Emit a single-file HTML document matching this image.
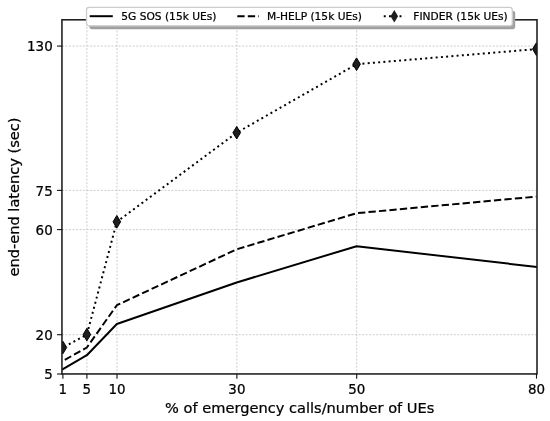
<!DOCTYPE html>
<html><head><meta charset="utf-8"><title>latency chart</title>
<style>html,body{margin:0;padding:0;background:#fff;}svg{display:block;}</style>
</head><body>
<svg width="550" height="421" viewBox="0 0 550 421"><rect width="550" height="421" fill="#fff"/><defs><filter id="sb" x="-5%" y="-50%" width="110%" height="200%"><feGaussianBlur stdDeviation="0.55"/></filter><clipPath id="ax"><rect x="61.95" y="19.8" width="475.05" height="354.15"/></clipPath></defs><g stroke="#cbcbcb" stroke-width="0.95" stroke-dasharray="2.05 1.48" fill="none"><line x1="86.9" y1="19.8" x2="86.9" y2="373.95"/><line x1="117.0" y1="19.8" x2="117.0" y2="373.95"/><line x1="236.9" y1="19.8" x2="236.9" y2="373.95"/><line x1="356.7" y1="19.8" x2="356.7" y2="373.95"/><line x1="61.95" y1="334.7" x2="537.0" y2="334.7"/><line x1="61.95" y1="229.6" x2="537.0" y2="229.6"/><line x1="61.95" y1="190.4" x2="537.0" y2="190.4"/><line x1="61.95" y1="46.07" x2="537.0" y2="46.07"/></g><g clip-path="url(#ax)" fill="none" stroke="#000"><polyline points="62.90,369.20 86.87,355.20 116.84,324.00 236.70,282.50 356.56,246.20 536.35,266.90" stroke-width="1.98" stroke-linejoin="round" stroke-linecap="square"/><polyline points="62.90,360.90 86.87,347.50 116.84,305.20 236.70,249.30 356.56,213.20 536.35,196.60" stroke-width="1.98" stroke-linejoin="round" stroke-dasharray="7.33 3.17" stroke-dashoffset="-2.2"/><polyline points="62.90,347.50 86.87,334.60 116.84,221.80 236.70,132.70 356.56,64.20 536.35,49.10" stroke-width="1.98" stroke-linejoin="round" stroke-dasharray="1.98 3.27" stroke-dashoffset="-1.5"/><polygon points="62.90,341.20 66.70,347.50 62.90,353.80 59.10,347.50" fill="#1e1e1e"/><polygon points="86.87,328.30 90.67,334.60 86.87,340.90 83.07,334.60" fill="#1e1e1e"/><polygon points="116.84,215.50 120.64,221.80 116.84,228.10 113.04,221.80" fill="#1e1e1e"/><polygon points="236.70,126.40 240.50,132.70 236.70,139.00 232.90,132.70" fill="#1e1e1e"/><polygon points="356.56,57.90 360.36,64.20 356.56,70.50 352.76,64.20" fill="#1e1e1e"/><polygon points="536.35,42.80 540.15,49.10 536.35,55.40 532.55,49.10" fill="#1e1e1e"/></g><rect x="61.95" y="19.8" width="475.05" height="354.15" fill="none" stroke="#1c1c1c" stroke-width="1.55"/><g stroke="#111" stroke-width="1.1"><line x1="62.9" y1="373.95" x2="62.9" y2="378.65"/><line x1="86.9" y1="373.95" x2="86.9" y2="378.65"/><line x1="117.0" y1="373.95" x2="117.0" y2="378.65"/><line x1="236.9" y1="373.95" x2="236.9" y2="378.65"/><line x1="356.7" y1="373.95" x2="356.7" y2="378.65"/><line x1="536.5" y1="373.95" x2="536.5" y2="378.65"/><line x1="57.050000000000004" y1="374.0" x2="61.95" y2="374.0"/><line x1="57.050000000000004" y1="334.7" x2="61.95" y2="334.7"/><line x1="57.050000000000004" y1="229.6" x2="61.95" y2="229.6"/><line x1="57.050000000000004" y1="190.4" x2="61.95" y2="190.4"/><line x1="57.050000000000004" y1="46.07" x2="61.95" y2="46.07"/></g><g font-family="'DejaVu Sans', 'Liberation Sans', sans-serif" font-size="13.45" fill="#000" stroke="#000" stroke-width="0.24"><text x="62.9" y="393.7" text-anchor="middle">1</text><text x="86.9" y="393.7" text-anchor="middle">5</text><text x="117.0" y="393.7" text-anchor="middle">10</text><text x="236.9" y="393.7" text-anchor="middle">30</text><text x="356.7" y="393.7" text-anchor="middle">50</text><text x="536.5" y="393.7" text-anchor="middle">80</text><text x="52.7" y="379" text-anchor="end">5</text><text x="52.7" y="340" text-anchor="end">20</text><text x="52.7" y="235" text-anchor="end">60</text><text x="52.7" y="196" text-anchor="end">75</text><text x="52.7" y="51" text-anchor="end">130</text></g><text x="299.7" y="412.8" text-anchor="middle" font-family="'DejaVu Sans', 'Liberation Sans', sans-serif" font-size="14.6" fill="#000" stroke="#000" stroke-width="0.24">% of emergency calls/number of UEs</text><text transform="translate(18.7,197.0) rotate(-90)" x="0" y="0" text-anchor="middle" font-family="'DejaVu Sans', 'Liberation Sans', sans-serif" font-size="14.6" fill="#000" stroke="#000" stroke-width="0.24">end-end latency (sec)</text><rect x="89.4" y="10.7" width="425.80" height="18.50" rx="2.6" fill="#a0a0a0" filter="url(#sb)"/><rect x="86.5" y="7.3" width="425.80" height="18.50" rx="2.6" fill="#fff" stroke="#cccccc" stroke-width="1.32"/><line x1="90.7" y1="16.2" x2="111.8" y2="16.2" stroke="#000" stroke-width="1.98" stroke-linecap="square"/><line x1="237.3" y1="16.2" x2="258.9" y2="16.2" stroke="#000" stroke-width="1.98" stroke-dasharray="7.33 3.17"/><line x1="383.75" y1="16.2" x2="404.85" y2="16.2" stroke="#000" stroke-width="1.98" stroke-dasharray="1.98 3.27"/><polygon points="394.30,9.90 398.10,16.20 394.30,22.50 390.50,16.20" fill="#1e1e1e"/><g font-family="'DejaVu Sans', 'Liberation Sans', sans-serif" font-size="10.65" fill="#000" stroke="#000" stroke-width="0.24"><text x="121.3" y="19.5">5G SOS (15k UEs)</text><text x="266.97" y="19.5">M-HELP (15k UEs)</text><text x="413.3" y="19.5">FINDER (15k UEs)</text></g></svg>
</body></html>
